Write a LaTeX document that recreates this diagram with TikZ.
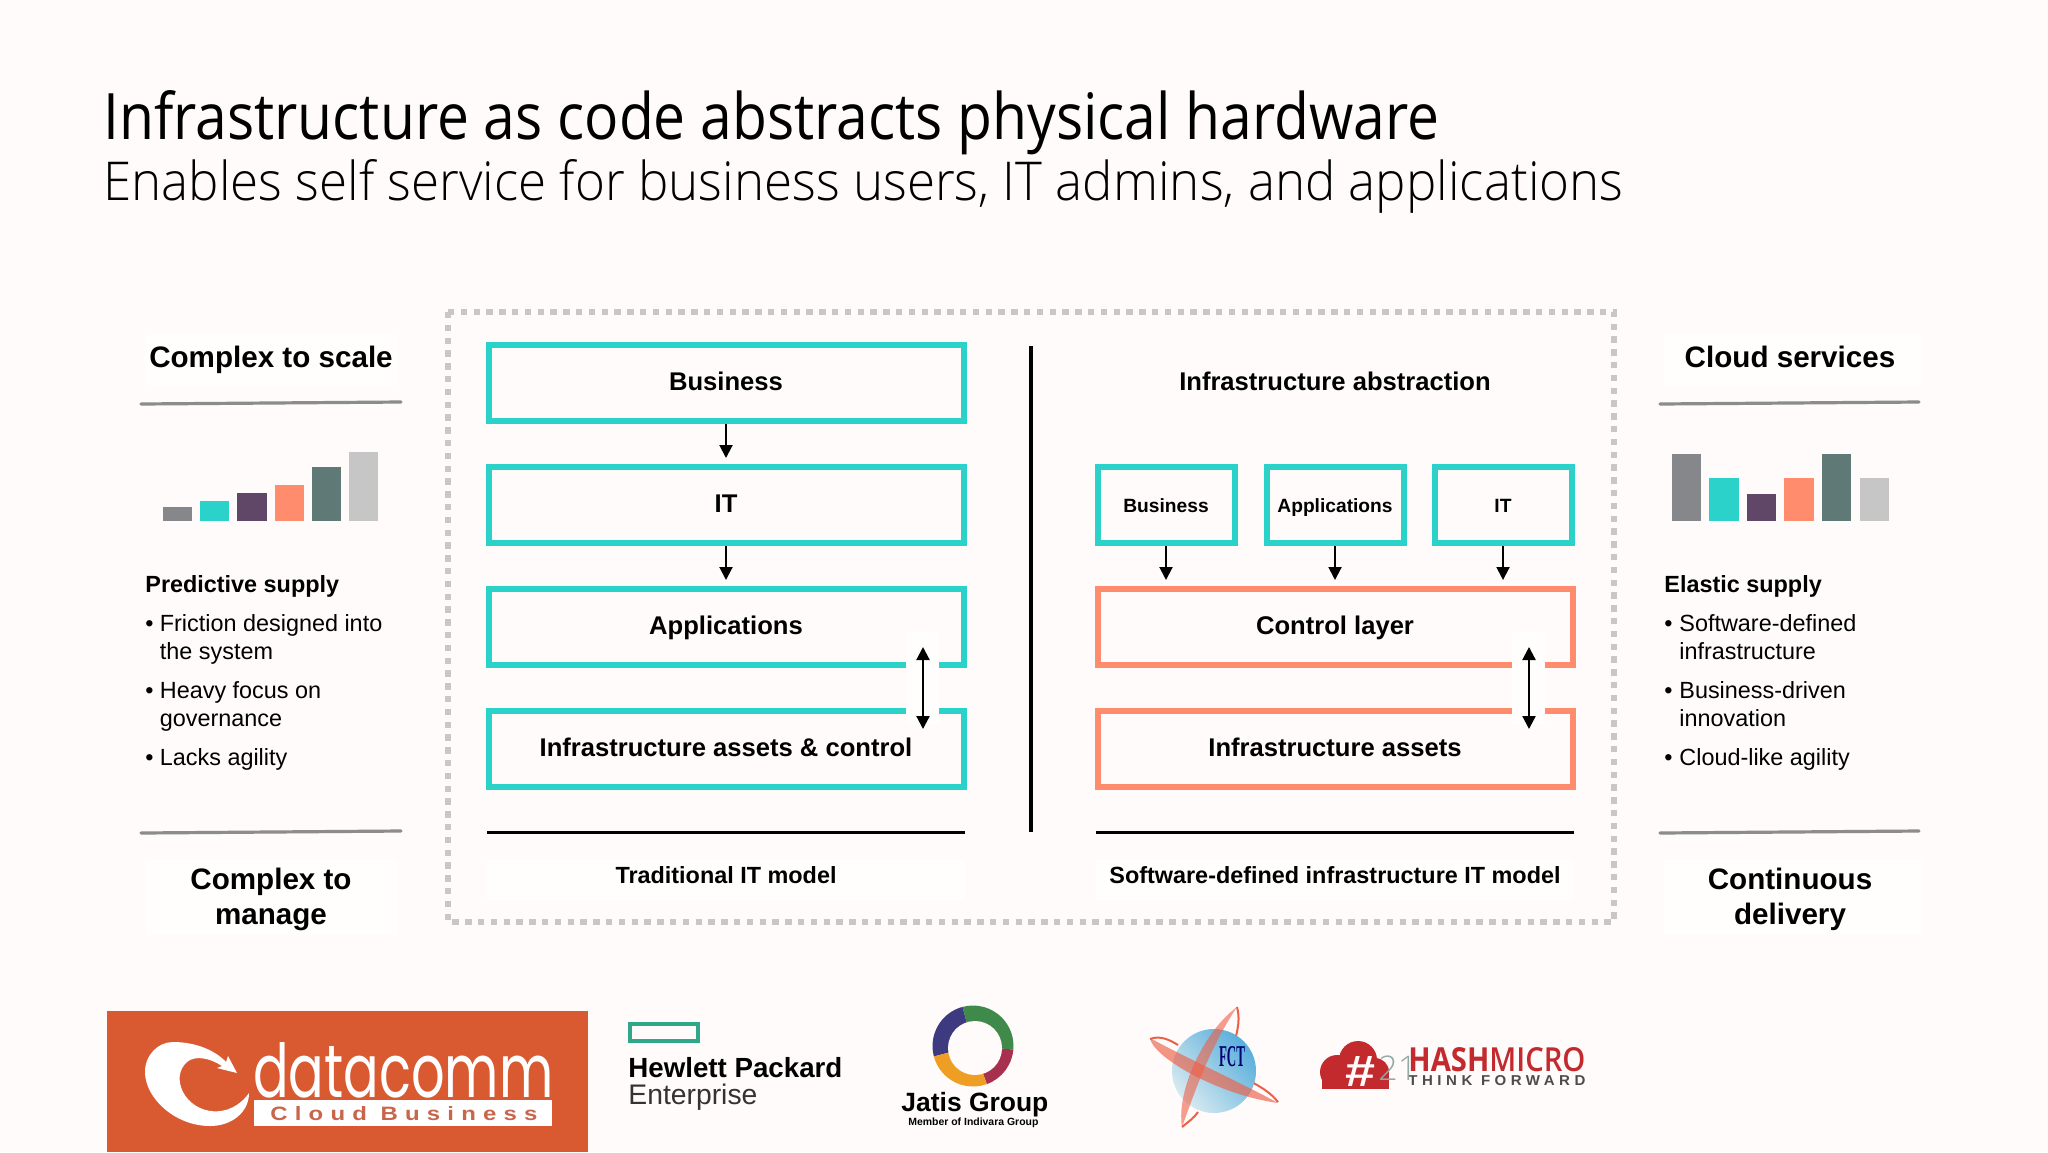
\documentclass[tikz,border=0pt]{standalone}
\usepackage{fontspec}
\usepackage{graphicx}
\usetikzlibrary{arrows.meta,calc}
\setmainfont{Liberation Sans}
\newfontfamily\lightfont{Open Sans Light}
\newfontfamily\openfont{Open Sans}
\newfontfamily\poppfont{Poppins}
\newfontfamily\seriffont{Liberation Serif}
\definecolor{bgc}{HTML}{FEFBFA}
\definecolor{patchc}{HTML}{FFFEFD}
\definecolor{teal}{HTML}{2AD2C9}
\definecolor{coral}{HTML}{FF8D6D}
\definecolor{plum}{HTML}{614767}
\definecolor{slate}{HTML}{5F7A76}
\definecolor{ltgrey}{HTML}{C6C6C6}
\definecolor{midgrey}{HTML}{85878A}
\definecolor{rule}{HTML}{8C8C8C}
\definecolor{dotc}{HTML}{C8C6C6}
\definecolor{dcorange}{HTML}{D95A31}
\definecolor{dcband}{HTML}{C9654A}
\definecolor{hpegreen}{HTML}{2FA88A}
\definecolor{hashred}{HTML}{C22A2E}
\definecolor{jnavy}{HTML}{3D3A80}
\definecolor{jgreen}{HTML}{3F8A4A}
\definecolor{jmaroon}{HTML}{A8304F}
\definecolor{jorange}{HTML}{EE9E22}
\definecolor{orbit}{HTML}{EE5F45}
\definecolor{globeL}{HTML}{58AEDC}
\definecolor{globeR}{HTML}{D8EAF0}
\tikzset{
  x=0.5pt,y=-0.5pt,
  boxtext/.style={text height=9pt,text depth=1.2pt},
  tealbox/.style={draw=teal,line width=3pt,inner sep=0pt,font=\bfseries\fontsize{12.8}{15}\selectfont,boxtext},
  coralbox/.style={draw=coral,line width=3pt,inner sep=0pt,font=\bfseries\fontsize{12.8}{15}\selectfont,boxtext},
  wide/.style={minimum width=237.5pt,minimum height=38pt},
  cwide/.style={minimum width=237.5pt,minimum height=38pt},
  smallbox/.style={minimum width=68.5pt,minimum height=38pt,font=\bfseries\fontsize{9.6}{12}\selectfont,text height=7pt,text depth=0pt},
  flowarrow/.style={line width=1pt,-{Triangle[length=6.5pt,width=6.5pt]},shorten >=3pt},
  biarrow/.style={line width=1.1pt,{Triangle[length=6.5pt,width=6.5pt]}-{Triangle[length=6.5pt,width=6.5pt]}},
  patch/.style={fill=patchc,draw=none},
  greyrule/.style={draw=rule,line width=1.6pt,line cap=round},
  blackrule/.style={draw=black,line width=1.5pt},
  sidehead/.style={font=\bfseries\fontsize{14.8}{18}\selectfont,align=center,inner sep=0pt,anchor=base},
  caption/.style={font=\bfseries\fontsize{11.7}{14}\selectfont,inner sep=0pt,anchor=base},
  subhead/.style={font=\bfseries\fontsize{11.7}{14}\selectfont,inner sep=0pt,anchor=base west},
  bodyline/.style={font=\fontsize{11.7}{14}\selectfont,inner sep=0pt,anchor=base west},
  logotext/.style={inner sep=0pt,anchor=base west},
}
\newcommand{\barrect}[5]{\fill[#5] (#1,#3) rectangle (#2,#4);}
\newcommand{\jsector}[3]{\fill[#3] (973,1046) -- ++(#1:40.5) arc[start angle=#1,end angle=#2,radius=40.5] -- cycle;}
\begin{document}
\begin{tikzpicture}
\useasboundingbox (0,0) rectangle (2048,1152);
\fill[bgc] (0,0) rectangle (2048,1152);

% title
\node[logotext] (title) at (103,139) {\resizebox{668pt}{24.5pt}{\openfont\fontsize{30}{34}\selectfont Infrastructure as code abstracts physical hardware}};
\node[logotext] (subtitle) at (103,200) {\resizebox{760pt}{20.5pt}{\lightfont\fontsize{24}{28}\selectfont Enables self service for business users, IT admins, and applications}};

% frame
\draw[dotc,line width=3.2pt,dash pattern=on 3.2pt off 3.2pt] (448,312) rectangle (1614,922);

% patches
\fill[patch] (145,335) rectangle (398,385);
\fill[patch] (1664,335) rectangle (1922,385);
\fill[patch] (145,860) rectangle (398,935);
\fill[patch] (1664,860) rectangle (1922,935);
\fill[patch] (487,860) rectangle (965,900);
\fill[patch] (1096,860) rectangle (1574,900);

% left stack
\node[tealbox,wide] (biz) at (726,383) {Business};
\node[tealbox,wide] (it) at (726,505) {IT};
\node[tealbox,wide] (app) at (726,627) {Applications};
\node[tealbox,wide] (inf) at (726,749) {Infrastructure assets \& control};
\draw[flowarrow] (biz.south) -- (it.north);
\draw[flowarrow] (it.south) -- (app.north);
\fill[patchc] (906,632) rectangle (939,724);
\coordinate (la) at (923,647);
\coordinate (lb) at (923,729);
\draw[biarrow] (la) -- (lb);

% divider
\coordinate (da) at (1031,346);
\coordinate (db) at (1031,832);
\draw[black,line width=1.8pt] (da) -- (db);

% right stack
\node[font=\bfseries\fontsize{12.8}{15}\selectfont,inner sep=0pt,boxtext] (abs) at (1335,383) {Infrastructure abstraction};
\node[tealbox,smallbox] (sb) at (1166,505) {Business};
\node[tealbox,smallbox] (sa) at (1335,505) {Applications};
\node[tealbox,smallbox] (si) at (1503,505) {IT};
\node[coralbox,cwide] (ctl) at (1335,627) {Control layer};
\node[coralbox,cwide] (ria) at (1335,749) {Infrastructure assets};
\draw[flowarrow] (sb.south) -- (sb.south |- ctl.north);
\draw[flowarrow] (sa.south) -- (ctl.north);
\draw[flowarrow] (si.south) -- (si.south |- ctl.north);
\fill[patchc] (1512,632) rectangle (1545,724);
\coordinate (ra) at (1529,647);
\coordinate (rb) at (1529,729);
\draw[biarrow] (ra) -- (rb);

% rules and captions
\draw[blackrule] (487,832) -- (965,832);
\draw[blackrule] (1096,832) -- (1574,832);
\node[caption] (c1) at (726,883) {Traditional IT model};
\node[caption] (c2) at (1335,883) {Software-defined infrastructure IT model};

% left column
\node[sidehead] (h1) at (271,367) {Complex to scale};
\draw[greyrule] (141,404) -- (401,402);
\barrect{163}{192}{507}{521}{midgrey}
\barrect{200}{229}{501}{521}{teal}
\barrect{237}{267}{493}{521}{plum}
\barrect{275}{304}{485}{521}{coral}
\barrect{312}{341}{467}{521}{slate}
\barrect{349}{378}{452}{521}{ltgrey}
\node[subhead] (p1) at (145,592) {Predictive supply};
\node[bodyline] at (145,631) {•};
\node[bodyline] at (159.5,631) {Friction designed into};
\node[bodyline] at (159.5,659) {the system};
\node[bodyline] at (145,698) {•};
\node[bodyline] at (159.5,698) {Heavy focus on};
\node[bodyline] at (159.5,726) {governance};
\node[bodyline] at (145,765) {•};
\node[bodyline] at (159.5,765) {Lacks agility};
\draw[greyrule] (141,833) -- (401,831);
\node[sidehead] (h2) at (271,889) {Complex to};
\node[sidehead] (h2b) at (271,924) {manage};

% right column
\node[sidehead] (h3) at (1790,367) {Cloud services};
\draw[greyrule] (1660,404) -- (1919,402);
\barrect{1672}{1701}{454}{521}{midgrey}
\barrect{1709}{1739}{478}{521}{teal}
\barrect{1747}{1776}{494}{521}{plum}
\barrect{1784}{1814}{478}{521}{coral}
\barrect{1822}{1851}{454}{521}{slate}
\barrect{1860}{1889}{478}{521}{ltgrey}
\node[subhead] (p2) at (1664,592) {Elastic supply};
\node[bodyline] at (1664,631) {•};
\node[bodyline] at (1679,631) {Software-defined};
\node[bodyline] at (1679,659) {infrastructure};
\node[bodyline] at (1664,698) {•};
\node[bodyline] at (1679,698) {Business-driven};
\node[bodyline] at (1679,726) {innovation};
\node[bodyline] at (1664,765) {•};
\node[bodyline] at (1679,765) {Cloud-like agility};
\draw[greyrule] (1660,833) -- (1919,831);
\node[sidehead] (h4) at (1790,889) {Continuous};
\node[sidehead] (h4b) at (1790,924) {delivery};

% datacomm logo
\fill[dcorange] (107,1011) rectangle (588,1152);
\fill[white] (173,1042) .. controls (198,1042) and (217,1052) .. (226,1062) -- (228,1056) -- (237,1073) -- (217,1068) -- (222,1066) .. controls (210,1058) and (195,1055) .. (187,1062) .. controls (178,1070) and (178,1082) .. (183,1092) .. controls (195,1115) and (230,1120) .. (249,1093) .. controls (249,1112) and (232,1126) .. (210,1126) .. controls (175,1126) and (145,1098) .. (145,1072) .. controls (145,1055) and (158,1042) .. (173,1042) -- cycle;
\node[logotext,text=white] (dc) at (253,1097) {\resizebox{150pt}{27.5pt}{\poppfont datacomm}};
\fill[white] (254,1100) rectangle (552,1126);
\node[logotext,text=dcband] (cb) at (270,1120) {\resizebox{133.5pt}{7pt}{\bfseries\addfontfeature{LetterSpace=30}Cloud Business}};

% HPE logo
\draw[hpegreen,line width=2pt] (630,1024) rectangle (698,1041);
\node[logotext] (hp) at (628,1077) {\resizebox{107pt}{!}{\bfseries Hewlett Packard}};
\node[logotext,text=black!80] (en) at (628,1104) {\resizebox{64.5pt}{!}{Enterprise}};

% Jatis logo
\jsector{165}{255}{jnavy}
\jsector{255}{365}{jgreen}
\jsector{5}{70}{jmaroon}
\jsector{70}{165}{jorange}
\fill[bgc] (975,1048) circle[radius=27];
\node[logotext] (jg) at (901,1111) {\resizebox{73.5pt}{!}{\bfseries Jatis Group}};
\node[logotext] (jm) at (908,1125) {\resizebox{65pt}{!}{\bfseries Member of Indivara Group}};

% FCT logo
\draw[orbit,line width=1pt] (1150,1039) .. controls (1160,1035) and (1170,1040) .. (1178,1045);
\draw[orbit,line width=1pt] (1278,1102) .. controls (1270,1092) and (1262,1088) .. (1252,1082);
\draw[orbit,line width=1pt] (1237,1007) .. controls (1240,1018) and (1238,1028) .. (1236,1036);
\draw[orbit,line width=1pt] (1182,1127) .. controls (1188,1122) and (1194,1118) .. (1198,1112);
\shade[left color=globeL,right color=globeR,shading angle=-50] (1214,1071) circle[radius=42];
\fill[orbit,opacity=.65] (1150,1038) .. controls (1152,1056) and (1215,1094) .. (1278,1103) .. controls (1240,1082) and (1190,1060) .. (1150,1038) -- cycle;
\fill[orbit,opacity=.6] (1237,1007) .. controls (1205,1030) and (1176,1090) .. (1182,1127) .. controls (1192,1100) and (1208,1050) .. (1237,1007) -- cycle;
\node[inner sep=0pt,text=blue!45!black] (fct) at (1232,1057) {\resizebox{13pt}{10pt}{\seriffont\bfseries FCT}};

% Hashmicro logo
\fill[hashred] (1337,1072) circle[radius=17];
\fill[hashred] (1358,1060) circle[radius=19];
\fill[hashred] (1375,1072) circle[radius=14];
\fill[hashred] (1322,1072) rectangle (1389,1089);
\node[inner sep=0pt,text=bgc] (hash) at (1360,1071) {\resizebox{15pt}{15pt}{\bfseries\#}};
\node[logotext,text=hashred] (hm) at (1408,1071) {\resizebox{88.5pt}{12pt}{\openfont\bfseries HASH{\lightfont MICRO}}};
\node[logotext,text=black!70] (tf) at (1408,1085) {\resizebox{88.5pt}{5pt}{\bfseries\addfontfeature{LetterSpace=30}THINK FORWARD}};
\node[logotext,text=teal!30!black!45] (pg) at (1378,1080) {\lightfont\fontsize{17}{20}\selectfont 21};
\end{tikzpicture}
\end{document}
